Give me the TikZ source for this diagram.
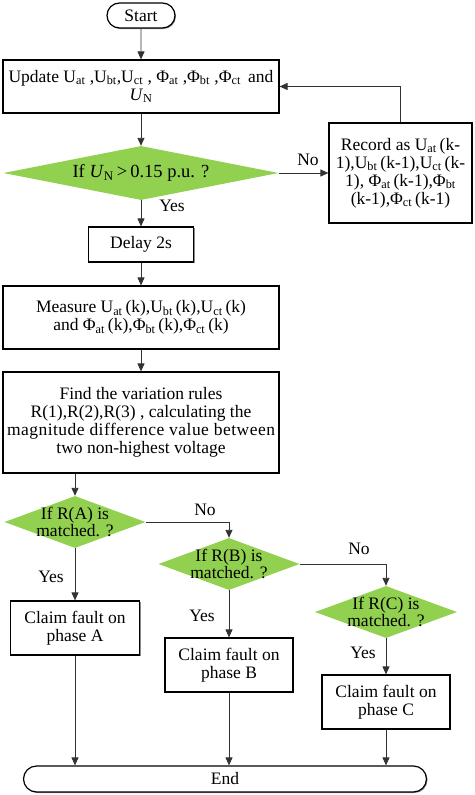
\documentclass[tikz,border=0pt]{standalone}
\usepackage{fontspec}
\setmainfont{Liberation Serif}
\usetikzlibrary{shapes.geometric,shapes.misc,arrows.meta,shadows}
\definecolor{dgreen}{RGB}{146,208,80}
\definecolor{lin}{RGB}{50,50,50}
\newcommand{\sub}[1]{\textsubscript{#1}}
\begin{document}
\begin{tikzpicture}[x=1pt,y=-1pt,
  every node/.style={font=\fontsize{17.5}{18}\selectfont},
  shad/.style={drop shadow={shadow xshift=1pt,shadow yshift=-1pt,fill=black,opacity=0.45}},
  box/.style={draw=black,fill=white,line width=1.2pt,rectangle,inner sep=2pt,align=center,shad},
  term/.style={draw=black,fill=white,line width=1.2pt,rounded rectangle,inner sep=0pt,shad},
  dec/.style={diamond,fill=dgreen,draw=none,inner sep=0pt},
  arr/.style={draw=lin,line width=0.9pt,-{Triangle[length=8pt,width=7pt]}},
  lbl/.style={inner sep=0pt}
]
\useasboundingbox (0,0) rectangle (474,795);
\node[term,minimum width=68pt,minimum height=25pt] (start) at (141,15.5) {Start};
\node[box,minimum width=276pt,minimum height=53pt] (update) at (141,86.5)
  {Update U\sub{at} ,U\sub{bt},U\sub{ct} , Φ\sub{at} ,Φ\sub{bt} ,Φ\sub{ct}\, and\\ \textit{U}\sub{N}};
\node[dec,minimum width=275pt,minimum height=54pt,label={[font=\fontsize{18.5}{18}\selectfont]center:If \textit{U}\sub{N}\,>\,0.15 p.u. ?}] (d1) at (141,173) {};
\node[box,minimum width=143pt,minimum height=100pt] (rec) at (400.5,173)
  {Record as U\sub{at}\,(k-\\1),U\sub{bt}\,(k-1),U\sub{ct}\,(k-\\1), Φ\sub{at}\,(k-1),Φ\sub{bt}\\(k-1),Φ\sub{ct}\,(k-1)};
\node[box,minimum width=105pt,minimum height=35pt] (delay) at (141,244.5) {Delay 2s};
\node[box,minimum width=276pt,minimum height=63pt] (meas) at (141,317.5)
  {Measure U\sub{at}\,(k),U\sub{bt}\,(k),U\sub{ct}\,(k)\\and Φ\sub{at}\,(k),Φ\sub{bt}\,(k),Φ\sub{ct}\,(k)};
\node[box,minimum width=276pt,minimum height=101pt] (find) at (141,422.5)
  {Find the variation rules\\R(1),R(2),R(3) , calculating the\\{\addfontfeature{LetterSpace=2.7}magnitude difference value between}\\two non-highest voltage};
\node[dec,minimum width=141pt,minimum height=52pt,label={[align=center,font=\fontsize{17.5}{17.5}\selectfont]center:If R(A) is\\matched. ?}] (dA) at (75,522) {};
\node[dec,minimum width=141pt,minimum height=52pt,label={[align=center,font=\fontsize{17.5}{17.5}\selectfont]center:If R(B) is\\matched. ?}] (dB) at (229,564) {};
\node[dec,minimum width=142pt,minimum height=52pt,label={[align=center,font=\fontsize{17.5}{17.5}\selectfont]center:If R(C) is\\matched. ?}] (dC) at (386,612) {};
\node[box,minimum width=129pt,minimum height=54pt] (cA) at (75,628) {Claim fault on\\phase A};
\node[box,minimum width=128pt,minimum height=54pt] (cB) at (229,665) {Claim fault on\\phase B};
\node[box,minimum width=128pt,minimum height=54pt] (cC) at (386,702) {Claim fault on\\phase C};
\node[term,minimum width=403pt,minimum height=26pt] (end) at (225,779) {End};
% connectors
\draw[arr] (start) -- (update);
\draw[arr] (update) -- (d1);
\draw[arr] (d1.east) -- (rec.west);
\node[lbl] (no1) at (308,160) {No};
\draw[arr] (rec.north) |- (update.east);
\draw[arr] (d1.south) -- (delay.north);
\node[lbl] (yes1) at (172,206) {Yes};
\draw[arr] (delay) -- (meas);
\draw[arr] (meas) -- (find);
\draw[arr] (find.south -| dA.north) -- (dA.north);
\draw[arr] (dA.east) -| (dB.north);
\node[lbl] (no2) at (205,510) {No};
\draw[arr] (dB.east) -| (dC.north);
\node[lbl] (no3) at (359,549) {No};
\draw[arr] (dA.south) -- (cA.north);
\node[lbl] (yes2) at (51,577) {Yes};
\draw[arr] (dB.south) -- (cB.north);
\node[lbl] (yes3) at (202,616) {Yes};
\draw[arr] (dC.south) -- (cC.north);
\node[lbl] (yes4) at (363,653) {Yes};
\draw[arr] (cA.south) -- (cA.south |- end.north);
\draw[arr] (cB.south) -- (cB.south |- end.north);
\draw[arr] (cC.south) -- (cC.south |- end.north);
\end{tikzpicture}
\end{document}
